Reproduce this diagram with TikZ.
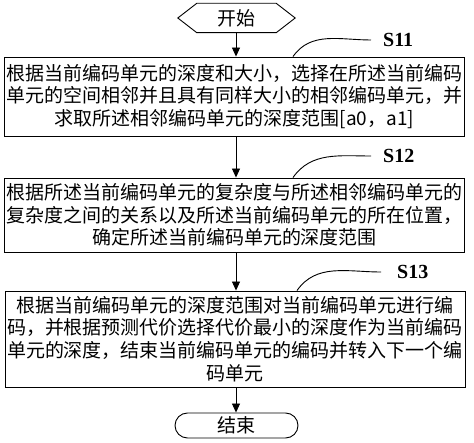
\documentclass[tikz,border=0pt]{standalone}
\usepackage{fontspec}
\setmainfont{Liberation Serif}
\newfontfamily\cjk{Noto Sans CJK SC}
\usetikzlibrary{arrows.meta,shapes.misc}
\tikzset{
  stepbox/.style={draw, line width=0.9pt, minimum width=460pt, inner sep=0pt, align=center,
    font=\cjk\fontsize{19pt}{22.6pt}\selectfont},
  term/.style={font=\cjk\fontsize{19pt}{22pt}\selectfont, inner sep=0pt},
  flow/.style={line width=0.9pt, -{Triangle[length=9pt,width=8pt]}},
  lab/.style={font=\bfseries\fontsize{20pt}{22pt}\selectfont, inner sep=0pt},
  leader/.style={line width=0.9pt}
}
\begin{document}
\begin{tikzpicture}[x=1pt,y=-1pt]
\useasboundingbox (0,0) rectangle (474,443);
\node[term, minimum width=117pt, minimum height=29pt] (start) at (236.5,18) {开始};
\draw[line width=0.9pt] ([xshift=19pt]start.north west) -- ([xshift=-19pt]start.north east) -- (start.east)
  -- ([xshift=-19pt]start.south east) -- ([xshift=19pt]start.south west) -- (start.west) -- cycle;

\node[stepbox, minimum height=79pt] (s1) at (234.5,96.5) {根据当前编码单元的深度和大小，选择在所述当前编码\\单元的空间相邻并且具有同样大小的相邻编码单元，并\\求取所述相邻编码单元的深度范围[a0，a1]};
\node[stepbox, minimum height=74pt] (s2) at (234.5,215) {根据所述当前编码单元的复杂度与所述相邻编码单元的\\复杂度之间的关系以及所述当前编码单元的所在位置，\\确定所述当前编码单元的深度范围};
\node[stepbox, minimum height=96pt] (s3) at (235,339) {根据当前编码单元的深度范围对当前编码单元进行编\\码，并根据预测代价选择代价最小的深度作为当前编码\\单元的深度，结束当前编码单元的编码并转入下一个编\\码单元};
\node[term, draw, line width=0.9pt, rounded rectangle, minimum width=123pt, minimum height=25pt] (end) at (236.5,425.5) {结束};

\draw[flow] (start.south -| 236,0) -- (s1.north -| 236,0);
\draw[flow] (s1.south -| 236,0) -- (s2.north -| 236,0);
\draw[flow] (s2.south -| 236,0) -- (s3.north -| 236,0);
\draw[flow] (s3.south -| 236,0) -- (end.north -| 236,0);

\node[lab, anchor=west] (l1) at (383,40) {S11};
\node[lab, anchor=west] (l2) at (383,156) {S12};
\node[lab, anchor=west] (l3) at (397,272) {S13};
\draw[leader] (s1.north -| 293,0) to[out=55,in=180] ([xshift=-12pt]l1.west);
\draw[leader] (s2.north -| 293,0) to[out=55,in=180] ([xshift=-12pt]l2.west);
\draw[leader] (s3.north -| 297,0) to[out=55,in=180] ([xshift=-16pt]l3.west);
\end{tikzpicture}
\end{document}
